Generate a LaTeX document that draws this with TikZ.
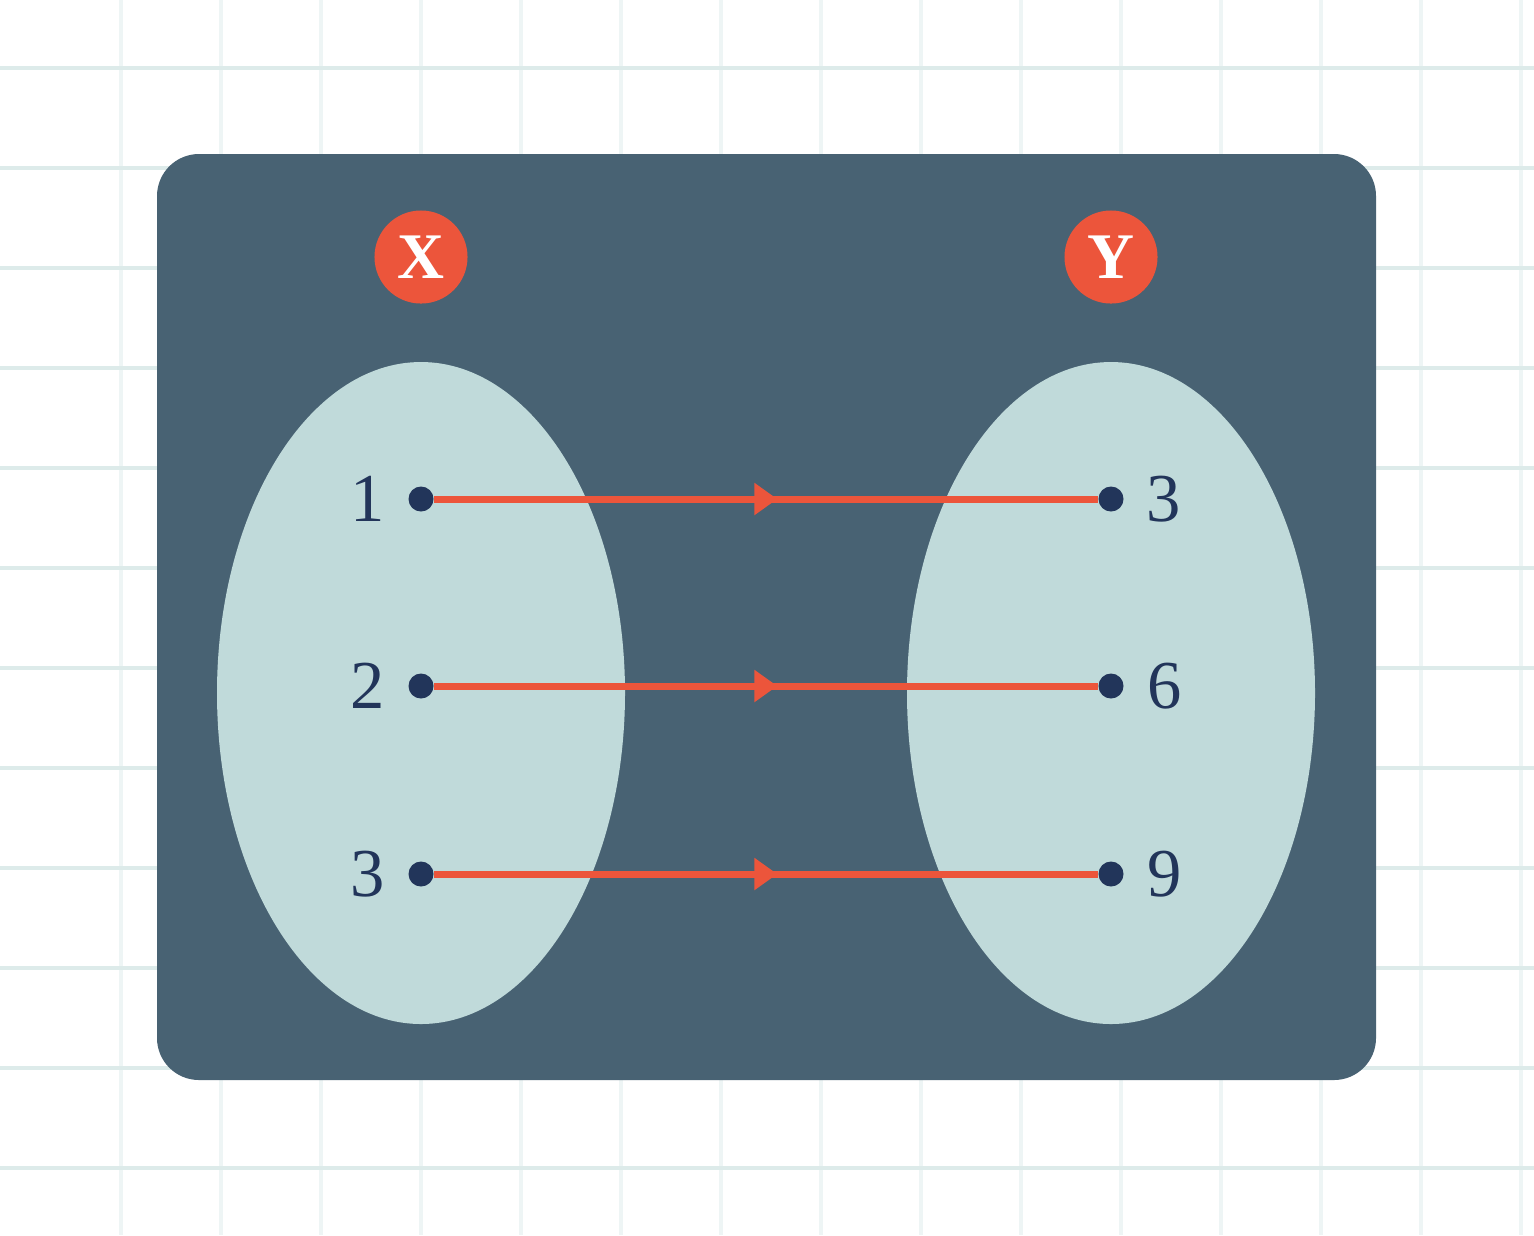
\documentclass[tikz,border=0pt]{standalone}
\usepackage{fontspec}
\setmainfont{Liberation Serif}
\usetikzlibrary{arrows.meta,decorations.markings}

\definecolor{gridh}{HTML}{DDEBEA}
\definecolor{gridv}{HTML}{EEF5F5}
\definecolor{panel}{HTML}{486273}
\definecolor{setfill}{HTML}{C0DADA}
\definecolor{redmap}{HTML}{EC553B}
\definecolor{navy}{HTML}{22355A}

\tikzset{
	elem/.style={circle,fill=navy,inner sep=0pt,minimum size=0.25cm},
	numtxt/.style={inner sep=0pt,text=navy,font=\fontsize{19.5}{20}\selectfont},
	setname/.style={circle,fill=redmap,inner sep=0pt,minimum size=0.93cm,
		text=white,font=\fontsize{18.5}{19}\selectfont\bfseries},
	maps/.style={draw=redmap,line width=2pt,
		postaction={decorate},
		decoration={markings,mark=at position 0.517 with
			{\arrow{Triangle[length=0.23cm,width=0.31cm]}}}}
}

\begin{document}
\begin{tikzpicture}[x=0.01cm,y=-0.01cm]
	\useasboundingbox (0,0) rectangle (1534,1235);
	\fill[white] (0,0) rectangle (1534,1235);

	% grid paper
	\foreach \gx in {121,221,...,1521}
		\draw[gridv,line width=1.1pt] (\gx,0) -- (\gx,1235);
	\foreach \gy in {68,168,...,1168}
		\draw[gridh,line width=1.1pt] (0,\gy) -- (1534,\gy);

	% panel and sets
	\fill[panel,rounded corners=0.42cm] (157,154) rectangle (1376,1080);
	\fill[setfill] (421,693) ellipse (204 and 331);
	\fill[setfill] (1111,693) ellipse (204 and 331);

	% set names
	\node[setname] (X) at (421,257) {X};
	\node[setname] (Y) at (1111,257) {Y};

	% elements of X
	\node[elem] (x1) at (421,499) {};
	\node[elem] (x2) at (421,686) {};
	\node[elem] (x3) at (421,874) {};
	% elements of Y
	\node[elem] (y1) at (1111,499) {};
	\node[elem] (y2) at (1111,686) {};
	\node[elem] (y3) at (1111,874) {};

	\node[numtxt] (nx1) at ([xshift=-0.53cm]x1) {1};
	\node[numtxt] (nx2) at ([xshift=-0.53cm]x2) {2};
	\node[numtxt] (nx3) at ([xshift=-0.53cm]x3) {3};
	\node[numtxt] (ny1) at ([xshift=0.53cm]y1) {3};
	\node[numtxt] (ny2) at ([xshift=0.54cm]y2) {6};
	\node[numtxt] (ny3) at ([xshift=0.54cm]y3) {9};

	% mapping
	\draw[maps] (x1) -- (y1);
	\draw[maps] (x2) -- (y2);
	\draw[maps] (x3) -- (y3);
\end{tikzpicture}
\end{document}
